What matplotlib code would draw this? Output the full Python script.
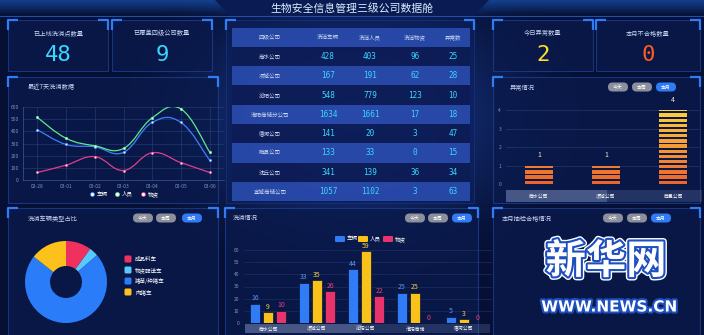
import numpy as np
import matplotlib.pyplot as plt
from matplotlib.patches import Rectangle, FancyBboxPatch, PathPatch, Polygon
from matplotlib.path import Path
import matplotlib.patheffects as pe

plt.rcParams['font.family'] = ['Noto Sans CJK SC', 'DejaVu Sans']

W, H = 704, 335

# ---- data ----
title = '生物安全信息管理三级公司数据舱'

kpi_labels = ['已上线洗消点数量', '已覆盖四级公司数量', '今日异常数量', '本月不合格数量']
kpi_values = [48, 9, 2, 0]

table_cols = ['四级公司', '洗消车辆', '洗消人员', '洗消物资', '异常数']
table_names = ['商水公司', '项城公司', '泌阳公司', '淮阳商储分公司',
               '唐河公司', '睢县公司', '沈丘公司', '宜城商储公司']
tbl_vehicle = [428, 167, 548, 1634, 141, 133, 341, 1057]
tbl_person = [403, 191, 779, 1661, 20, 33, 139, 1102]
tbl_goods = [96, 62, 123, 17, 3, 0, 36, 3]
tbl_abnormal = [25, 28, 10, 18, 47, 15, 34, 63]

days = ['02-28', '03-01', '03-02', '03-03', '03-04', '03-05', '03-06']
line_vehicle = [413, 292, 273, 227, 473, 473, 162]
line_person = [514, 343, 281, 259, 511, 584, 230]
line_goods = [62, 122, 192, 78, 224, 143, 62]
line_names = ['车辆', '人员', '物资']

abn_companies = ['商水公司', '项城公司', '鹿邑公司']
abn_counts = [1, 1, 4]

pie_labels = ['成品料车', '物资配送车', '猪苗/种猪车', '肉猪车']
pie_values = [14, 5, 100, 20]

grp_companies = ['商水公司', '项城公司', '泌阳公司', '淮阳商储', '唐河公司']
grp_vehicle = [16, 33, 44, 25, 5]
grp_person = [9, 35, 59, 25, 3]
grp_goods = [10, 26, 22, 0, 0]

# ---- colours ----
BLUE = '#2f7cf6'
YELLOW = '#f8c21b'
PINK = '#e8336d'
CYAN = '#3ad6ff'
TXT = '#c9d6f2'
TICK = '#7f95c8'

fig = plt.figure(figsize=(7.04, 3.35), dpi=100)
bg = fig.add_axes([0, 0, 1, 1])
bg.set_xlim(0, W)
bg.set_ylim(H, 0)
bg.axis('off')

# background glow
yy, xx = np.mgrid[0:H, 0:W]
base = np.array([6, 16, 52]) / 255
glow = np.array([32, 72, 175]) / 255
d = np.sqrt(((xx - 352) / 240) ** 2 + ((yy - 115) / 170) ** 2)
g = np.clip(1 - d, 0, 1) ** 1.4
img = base + g[..., None] * (glow - base)
band = np.clip(1 - yy / 15, 0, 1)[..., None] * 0.55
img = img * (1 - band) + band * (np.array([30, 100, 210]) / 255)
bg.imshow(np.clip(img, 0, 1), extent=(0, W, H, 0), aspect='auto', zorder=0)
bg.add_patch(Polygon([(215, 0), (489, 0), (474, 16), (230, 16)], closed=True,
                     fc='#0a1a52', ec='none', zorder=1))
bg.plot([0, 230, 474, W], [16, 16, 16, 16], color='#1f4fa8', lw=0.8, zorder=1)
bg.text(352, 8, title, color='#d8f0ff', fontsize=7.8, ha='center', va='center',
        zorder=5)


def px_axes(x0, y0, x1, y1):
    return fig.add_axes([x0 / W, 1 - y1 / H, (x1 - x0) / W, (y1 - y0) / H])


def panel(x0, y0, x1, y1, fc='#0a1a4c', alpha=0.8):
    bg.add_patch(Rectangle((x0, y0), x1 - x0, y1 - y0, fc=fc, ec='#1d3d8c',
                           lw=0.8, alpha=alpha, zorder=1))
    bg.plot([x0, x0, x0 + 10], [y0 + 10, y0, y0], color='#2f7cf6', lw=1.6,
            zorder=2, solid_capstyle='butt')
    bg.plot([x1 - 10, x1, x1], [y0, y0, y0 + 10], color='#2f7cf6', lw=1.6,
            zorder=2, solid_capstyle='butt')


def pills(xs, y):
    for i, (x, lab) in enumerate(zip(xs, ['今天', '本周', '本月'])):
        c = BLUE if i == 2 else '#8c909c'
        bg.add_patch(FancyBboxPatch((x - 10, y - 4.5), 20, 9,
                                    boxstyle='round,pad=0,rounding_size=4.5',
                                    fc=c, ec='none', zorder=3))
        bg.text(x, y, lab, color='white', fontsize=3.5, ha='center',
                va='center', zorder=4)


# ---- KPI cards ----
cards = [(8, 108), (112, 212), (493, 593), (596, 700)]
kpi_colors = [CYAN, CYAN, '#ffe02a', '#ff5a1f']
for (x0, x1), lab, val, col in zip(cards, kpi_labels, kpi_values, kpi_colors):
    panel(x0, 20, x1, 71)
    cx = (x0 + x1) / 2
    bg.text(cx, 33, lab, color=TXT, fontsize=4.5, ha='center', va='center',
            zorder=4)
    bg.text(cx, 55, str(val), color=col, fontsize=16, ha='center',
            va='center', family='DejaVu Sans Mono', zorder=4)

# ---- table ----
panel(226, 20, 474, 203, fc='#0c2060', alpha=0.5)
col_x = [270, 328, 370, 415, 453]
row_h = 19.3
top = 27.5
for r in range(9):
    y0 = top + r * row_h
    fc = '#2b4cae' if r % 2 == 0 else '#0d1c55'
    bg.add_patch(Rectangle((232, y0), 238, min(row_h, 202 - y0), fc=fc,
                           ec='none', alpha=0.9, zorder=2))
for cx, c in zip(col_x, table_cols):
    bg.text(cx, top + row_h / 2, c, color=TXT, fontsize=4, ha='center',
            va='center', zorder=4)
for r, name in enumerate(table_names):
    yc = top + (r + 1) * row_h + row_h / 2
    if yc > 200:
        yc = 193
    vals = [tbl_vehicle[r], tbl_person[r], tbl_goods[r], tbl_abnormal[r]]
    bg.text(col_x[0], yc, name, color=TXT, fontsize=4, ha='center',
            va='center', zorder=4)
    for cx, v in zip(col_x[1:], vals):
        bg.text(cx, yc, str(v), color=CYAN, fontsize=5.5, ha='center',
                va='center', family='DejaVu Sans Mono', zorder=4)

# ---- line chart ----
panel(8, 77, 218, 203)
bg.text(28, 87, '最近7天洗消数据', color=TXT, fontsize=4.5, va='center', zorder=4)
ax = px_axes(23, 107, 224, 180)
ax.patch.set_alpha(0)
xs = np.arange(len(days))


def smooth_path(x, y, t=0.2):
    verts = [(x[0], y[0])]
    codes = [Path.MOVETO]
    n = len(x)
    for i in range(n - 1):
        p0 = max(i - 1, 0)
        p3 = min(i + 2, n - 1)
        c1 = (x[i] + (x[i + 1] - x[p0]) * t, y[i] + (y[i + 1] - y[p0]) * t)
        c2 = (x[i + 1] - (x[p3] - x[i]) * t, y[i + 1] - (y[p3] - y[i]) * t)
        verts += [c1, c2, (x[i + 1], y[i + 1])]
        codes += [Path.CURVE4] * 3
    return Path(verts, codes)


line_colors = ['#3d80ff', '#5ee88e', '#e23c8e']
for series, col in zip([line_vehicle, line_person, line_goods], line_colors):
    ax.add_patch(PathPatch(smooth_path(xs, series), fill=False, ec=col,
                           lw=0.9, zorder=3))
    ax.scatter(xs, series, s=3, c='white', edgecolors=col, linewidths=0.4,
               zorder=4)
ax.set_xlim(-0.5, 6.5)
ax.set_ylim(0, 600)
ax.set_xticks(xs, days)
ax.set_yticks(range(0, 601, 100))
ax.grid(color='#24417e', lw=0.4)
ax.tick_params(colors=TICK, labelsize=3.5, length=0, pad=3)
for s in ['top', 'right']:
    ax.spines[s].set_visible(False)
for s in ['left', 'bottom']:
    ax.spines[s].set_color('#3a5aa0')
    ax.spines[s].set_linewidth(0.5)
for lx, name, col in zip([92, 117, 143], line_names, line_colors):
    bg.scatter([lx], [194], s=8, c='white', edgecolors=col, linewidths=0.5,
               zorder=5)
    bg.text(lx + 5, 194, name, color='white', fontsize=4, va='center', zorder=5)

# ---- abnormal bars ----
panel(493, 77, 700, 203)
bg.text(510, 87, '异常情况', color=TXT, fontsize=4.5, va='center', zorder=4)
pills([618, 642, 666], 87)
bg.add_patch(Rectangle((506, 190), 196, 12, fc='#56689a', alpha=0.35,
                       ec='none', zorder=2))
bg.add_patch(Rectangle((506, 190), 101, 12, fc='#8a9cc8', alpha=0.35,
                       ec='none', zorder=2))
ax2 = px_axes(506, 110, 700, 184)
ax2.patch.set_alpha(0)
pitch, seg = 0.28, 0.18
c_lo = np.array([238, 100, 42]) / 255
c_hi = np.array([255, 212, 58]) / 255
for i, v in enumerate(abn_counts):
    for b in np.arange(0, v, pitch):
        f = b / max(abn_counts)
        ax2.bar(i, min(seg, v - b), bottom=b, width=0.42,
                color=c_lo + (c_hi - c_lo) * f, zorder=3)
    ax2.text(i, v + 0.35, str(v), color='#f2e8c8', fontsize=5, ha='center',
             va='bottom', zorder=4)
ax2.set_xlim(-0.49, 2.4)
ax2.set_ylim(0, 4)
ax2.set_yticks(range(0, 5))
ax2.set_xticks(range(len(abn_companies)), abn_companies)
ax2.grid(axis='y', color='#24417e', lw=0.4)
ax2.tick_params(colors=TICK, labelsize=3.5, length=0)
ax2.tick_params(axis='x', colors='white', pad=7)
for s in ax2.spines.values():
    s.set_visible(False)

# ---- donut ----
panel(8, 208, 218, 335)
bg.text(28, 219, '洗消车辆类型占比', color=TXT, fontsize=4.5, va='center',
        zorder=4)
pills([143, 166, 192], 218)
pie_colors = ['#f0305f', '#5ac8fa', '#2a7cf8', '#fcc21b']
ax3 = px_axes(25, 241, 107, 323)
ax3.pie(pie_values, colors=pie_colors, startangle=90, counterclock=False,
        radius=1, wedgeprops=dict(width=1 - 16 / 41, edgecolor='none'))
ax3.set_xlim(-1, 1)
ax3.set_ylim(-1, 1)
for i, (lab, col) in enumerate(zip(pie_labels, pie_colors)):
    ly = 259 + i * 11
    bg.add_patch(FancyBboxPatch((124.5, ly - 3.5), 7, 7,
                                boxstyle='round,pad=0,rounding_size=1.5',
                                fc=col, ec='none', zorder=4))
    bg.text(135, ly, lab, color='white', fontsize=4, va='center', zorder=4)

# ---- grouped bars ----
panel(225, 208, 478, 335)
bg.text(233, 218, '洗消情况', color=TXT, fontsize=4.5, va='center', zorder=4)
pills([415, 438, 462], 218)
bg.add_patch(Rectangle((245, 324), 245, 9, fc='#56689a', alpha=0.35,
                       ec='none', zorder=2))
bg.add_patch(Rectangle((245, 324), 117, 9, fc='#8a9cc8', alpha=0.35,
                       ec='none', zorder=2))
grp_colors = [BLUE, YELLOW, PINK]
label_colors = ['#5b95f0', '#f8d040', '#e8407a']
for lx, name, col in zip([340, 363, 388], line_names, grp_colors):
    bg.add_patch(FancyBboxPatch((lx - 5, 236), 10, 6,
                                boxstyle='round,pad=0,rounding_size=1',
                                fc=col, ec='none', zorder=4))
    bg.text(lx + 7, 239, name, color='white', fontsize=4, va='center', zorder=4)
ax4 = px_axes(244, 250, 492, 323)
ax4.patch.set_alpha(0)
gx = np.arange(len(grp_companies))
for k, (series, col, lc) in enumerate(zip([grp_vehicle, grp_person, grp_goods],
                                          grp_colors, label_colors)):
    pos = gx + (k - 1) * 0.27
    ax4.bar(pos, series, width=0.2, color=col, edgecolor='#0b1430', lw=0.5,
            zorder=3)
    for p, v in zip(pos, series):
        ax4.text(p, v + 1.2, str(v), color=lc, fontsize=5, ha='center',
                 va='bottom', zorder=4, clip_on=False)
ax4.set_xlim(-0.49, 4.57)
ax4.set_ylim(0, 60)
ax4.set_yticks(range(0, 61, 10))
ax4.set_xticks(gx, grp_companies)
ax4.grid(axis='y', color='#1e3570', lw=0.4)
ax4.tick_params(colors=TICK, labelsize=3.5, length=0)
ax4.tick_params(axis='x', colors='white', pad=2.5)
for s in ax4.spines.values():
    s.set_visible(False)

# ---- bottom right ----
panel(493, 208, 700, 335)
bg.text(502, 218, '本月抽检合格情况', color=TXT, fontsize=4.5, va='center',
        zorder=4)
pills([613, 637, 661], 218)
fx = [pe.Stroke(linewidth=5, foreground='white'),
      pe.Stroke(linewidth=3, foreground='#1d4fbf'), pe.Normal()]
bg.text(606, 262, '新华网', color='white', fontsize=29, weight='bold',
        ha='center', va='center', zorder=6, path_effects=fx)
bg.text(609, 307, 'WWW.NEWS.CN', color='white', fontsize=11, weight='bold',
        family='DejaVu Sans', ha='center', va='center', zorder=6,
        path_effects=[pe.Stroke(linewidth=3, foreground='#1d4fbf'),
                      pe.Normal()])

fig.savefig('out.png', dpi=100)
